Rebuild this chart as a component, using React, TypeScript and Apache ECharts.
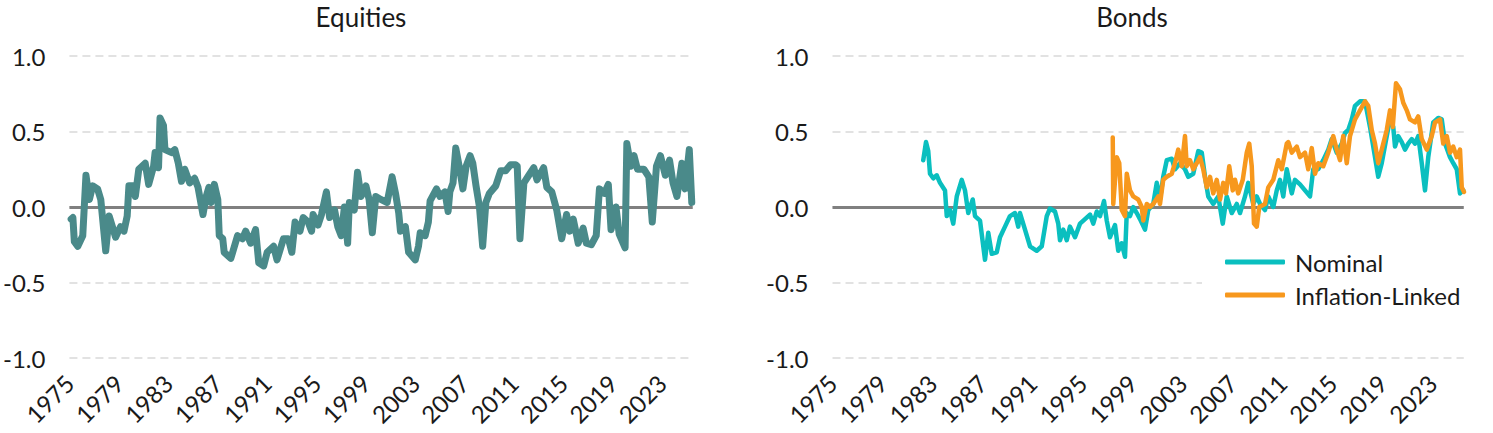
import React, { useEffect, useRef } from "react";
import * as echarts from "echarts";

const xMin = 1975;
const xMax = 2025.5;
const xStep = 4;
const yTicks = [-1, -0.5, 0, 0.5, 1];

const equities: [number, number][] = [
  [1975.14, -0.08], [1975.28, -0.07], [1975.4, -0.23], [1975.68, -0.26], [1976.08, -0.19],
  [1976.34, 0.21], [1976.62, 0.05], [1976.88, 0.14], [1977.28, 0.12], [1977.54, 0.05],
  [1977.94, -0.29], [1978.22, -0.06], [1978.48, -0.13], [1978.74, -0.2], [1979.14, -0.13],
  [1979.42, -0.16], [1979.68, -0.06], [1979.82, 0.14], [1980.22, 0.14], [1980.34, 0.07],
  [1980.62, 0.25], [1981.14, 0.29], [1981.42, 0.15], [1981.82, 0.27], [1981.94, 0.36],
  [1982.22, 0.26], [1982.34, 0.59], [1982.62, 0.54], [1982.74, 0.38], [1983.28, 0.36],
  [1983.54, 0.38], [1983.82, 0.29], [1984.08, 0.17], [1984.34, 0.25], [1984.74, 0.16],
  [1985.14, 0.19], [1985.42, 0.13], [1985.82, -0.05], [1986.08, 0.07], [1986.3, 0.13],
  [1986.48, 0.03], [1986.74, 0.15], [1987.02, 0.05], [1987.14, -0.19], [1987.42, -0.21],
  [1987.54, -0.3], [1988.08, -0.34], [1988.62, -0.19], [1989.02, -0.21], [1989.28, -0.16],
  [1989.68, -0.24], [1990.08, -0.15], [1990.34, -0.37], [1990.74, -0.39], [1991.02, -0.3],
  [1991.54, -0.26], [1991.82, -0.35], [1992.34, -0.21], [1992.74, -0.21], [1993.02, -0.3],
  [1993.28, -0.1], [1993.68, -0.16], [1993.94, -0.07], [1994.34, -0.1], [1994.62, -0.16],
  [1994.74, -0.05], [1995.14, -0.12], [1995.42, -0.05], [1995.82, 0.1], [1996.08, -0.07],
  [1996.48, -0.02], [1996.74, -0.13], [1997.02, -0.19], [1997.28, 0.0], [1997.54, -0.24],
  [1997.68, 0.03], [1998.08, -0.02], [1998.34, 0.23], [1998.62, 0.07], [1999.02, 0.14],
  [1999.28, 0.05], [1999.54, -0.17], [1999.82, 0.07], [2000.22, 0.05], [2000.74, 0.03],
  [2001.14, 0.2], [2001.42, 0.09], [2001.68, -0.04], [2001.82, -0.16], [2002.22, -0.13],
  [2002.48, -0.3], [2003.02, -0.35], [2003.28, -0.26], [2003.42, -0.17], [2003.82, -0.19],
  [2004.08, -0.1], [2004.22, 0.04], [2004.74, 0.12], [2005.02, 0.07], [2005.42, 0.1],
  [2005.68, -0.03], [2005.82, 0.1], [2006.08, 0.16], [2006.3, 0.39], [2006.62, 0.25],
  [2006.88, 0.12], [2007.14, 0.27], [2007.46, 0.34], [2007.68, 0.29], [2007.94, 0.14],
  [2008.22, 0.0], [2008.48, -0.26], [2008.74, 0.03], [2009.02, 0.09], [2009.54, 0.14],
  [2009.94, 0.24], [2010.34, 0.24], [2010.74, 0.28], [2011.14, 0.28], [2011.28, 0.27],
  [2011.5, -0.21], [2011.82, 0.16], [2012.22, 0.21], [2012.62, 0.26], [2012.88, 0.18],
  [2013.42, 0.26], [2013.68, 0.13], [2014.08, 0.1], [2014.48, -0.02], [2014.88, -0.21],
  [2015.28, -0.05], [2015.54, -0.16], [2015.82, -0.08], [2016.22, -0.24], [2016.62, -0.14],
  [2016.88, -0.24], [2017.28, -0.25], [2017.68, -0.19], [2017.94, 0.12], [2018.34, 0.09],
  [2018.66, 0.15], [2018.88, -0.15], [2019.28, 0.0], [2019.54, -0.18], [2020.02, -0.27],
  [2020.16, 0.42], [2020.48, 0.27], [2020.74, 0.34], [2021.02, 0.25], [2021.54, 0.25],
  [2021.94, 0.2], [2022.22, -0.1], [2022.56, 0.27], [2022.88, 0.34], [2023.28, 0.21],
  [2023.62, 0.31], [2023.9, 0.16], [2024.22, 0.07], [2024.62, 0.29], [2024.88, 0.12],
  [2025.22, 0.38], [2025.42, 0.03],
];

const nominal: [number, number][] = [
  [1982.26, 0.31], [1982.48, 0.43], [1982.66, 0.37], [1982.8, 0.22], [1983.06, 0.19],
  [1983.34, 0.21], [1983.6, 0.16], [1984.0, 0.11], [1984.14, -0.06], [1984.4, -0.02],
  [1984.66, -0.11], [1984.94, 0.07], [1985.34, 0.18], [1985.6, 0.11], [1985.86, -0.04],
  [1986.22, 0.05], [1986.4, -0.06], [1986.8, -0.09], [1987.2, -0.35], [1987.46, -0.17],
  [1987.74, -0.31], [1988.14, -0.3], [1988.4, -0.2], [1988.8, -0.13], [1989.2, -0.06],
  [1989.6, -0.04], [1989.86, -0.13], [1990.0, -0.04], [1990.4, -0.15], [1990.8, -0.26],
  [1991.34, -0.29], [1991.74, -0.26], [1992.14, -0.06], [1992.4, -0.01], [1992.8, -0.03],
  [1993.06, -0.11], [1993.2, -0.22], [1993.46, -0.15], [1993.74, -0.22], [1994.0, -0.13],
  [1994.4, -0.2], [1994.8, -0.11], [1995.2, -0.08], [1995.6, -0.05], [1995.86, -0.11],
  [1996.14, -0.03], [1996.4, -0.06], [1996.72, 0.04], [1996.94, -0.09], [1997.2, -0.2],
  [1997.6, -0.12], [1997.86, -0.29], [1998.14, -0.24], [1998.4, -0.33], [1998.54, -0.04],
  [1998.8, -0.06], [1999.06, 0.0], [1999.34, -0.04], [1999.6, -0.08], [2000.0, -0.15],
  [2000.26, -0.02], [2000.66, 0.02], [2000.94, 0.16], [2001.2, 0.05], [2001.46, 0.2],
  [2001.74, 0.31], [2002.14, 0.32], [2002.4, 0.25], [2002.8, 0.29], [2003.2, 0.25],
  [2003.46, 0.2], [2003.86, 0.22], [2004.26, 0.37], [2004.54, 0.36], [2004.8, 0.2],
  [2005.06, 0.07], [2005.46, 0.02], [2005.86, 0.07], [2006.22, -0.11], [2006.54, 0.07],
  [2006.94, -0.04], [2007.34, 0.02], [2007.6, -0.04], [2008.0, 0.07], [2008.26, 0.16],
  [2008.66, 0.02], [2008.94, 0.07], [2009.2, 0.02], [2009.6, -0.02], [2009.86, 0.07],
  [2010.26, 0.0], [2010.54, 0.11], [2010.8, 0.18], [2011.06, 0.07], [2011.34, 0.25],
  [2011.74, 0.09], [2012.0, 0.18], [2012.4, 0.15], [2012.8, 0.11], [2013.2, 0.07],
  [2013.46, 0.25], [2013.86, 0.25], [2014.26, 0.31], [2014.66, 0.38], [2014.94, 0.45],
  [2015.34, 0.36], [2015.74, 0.42], [2016.0, 0.49], [2016.26, 0.51], [2016.54, 0.58],
  [2016.8, 0.67], [2017.2, 0.7], [2017.6, 0.7], [2018.0, 0.53], [2018.4, 0.33],
  [2018.66, 0.2], [2018.94, 0.29], [2019.34, 0.47], [2019.6, 0.58], [2019.86, 0.53],
  [2020.0, 0.4], [2020.26, 0.47], [2020.54, 0.43], [2020.8, 0.38], [2021.06, 0.42],
  [2021.34, 0.45], [2021.6, 0.42], [2021.86, 0.47], [2022.14, 0.29], [2022.4, 0.11],
  [2022.66, 0.33], [2023.06, 0.56], [2023.46, 0.59], [2023.74, 0.58], [2024.0, 0.42],
  [2024.4, 0.33], [2024.66, 0.29], [2024.94, 0.25], [2025.2, 0.09], [2025.46, 0.11],
];

const inflationLinked: [number, number][] = [
  [1997.42, 0.46], [1997.46, 0.02], [1997.74, 0.33], [1997.94, 0.29], [1998.14, -0.02],
  [1998.4, -0.06], [1998.54, 0.22], [1998.8, 0.11], [1999.06, 0.07], [1999.46, 0.05],
  [1999.74, 0.0], [1999.86, -0.09], [2000.14, 0.02], [2000.4, 0.0], [2000.66, 0.02],
  [2001.06, 0.07], [2001.2, 0.02], [2001.46, 0.18], [2001.74, 0.2], [2002.14, 0.22],
  [2002.4, 0.29], [2002.66, 0.38], [2002.94, 0.27], [2003.2, 0.47], [2003.34, 0.27],
  [2003.6, 0.31], [2003.86, 0.25], [2004.14, 0.29], [2004.4, 0.33], [2004.66, 0.25],
  [2004.94, 0.13], [2005.2, 0.2], [2005.46, 0.09], [2005.74, 0.18], [2006.0, 0.05],
  [2006.26, 0.16], [2006.48, 0.09], [2006.74, 0.27], [2007.02, 0.11], [2007.2, 0.18],
  [2007.46, 0.09], [2007.82, 0.18], [2008.14, 0.36], [2008.34, 0.42], [2008.54, 0.27],
  [2008.72, -0.11], [2008.94, -0.13], [2009.14, 0.0], [2009.6, 0.02], [2009.86, 0.13],
  [2010.26, 0.18], [2010.66, 0.31], [2010.94, 0.25], [2011.34, 0.42], [2011.46, 0.43],
  [2011.74, 0.36], [2012.14, 0.4], [2012.4, 0.33], [2012.8, 0.36], [2013.06, 0.25],
  [2013.34, 0.39], [2013.6, 0.22], [2013.86, 0.29], [2014.26, 0.27], [2014.66, 0.36],
  [2015.06, 0.47], [2015.34, 0.38], [2015.6, 0.31], [2015.86, 0.47], [2016.14, 0.29],
  [2016.4, 0.47], [2016.8, 0.58], [2017.2, 0.64], [2017.6, 0.7], [2017.86, 0.67],
  [2018.14, 0.51], [2018.4, 0.42], [2018.66, 0.29], [2018.94, 0.38], [2019.34, 0.51],
  [2019.6, 0.64], [2019.82, 0.53], [2020.08, 0.82], [2020.4, 0.78], [2020.66, 0.69],
  [2020.94, 0.64], [2021.2, 0.58], [2021.6, 0.56], [2021.86, 0.6], [2022.14, 0.45],
  [2022.54, 0.38], [2022.94, 0.47], [2023.2, 0.56], [2023.6, 0.58], [2023.86, 0.42],
  [2024.14, 0.47], [2024.4, 0.36], [2024.66, 0.4], [2024.94, 0.33], [2025.2, 0.38],
  [2025.34, 0.13], [2025.52, 0.1],
];

const FONT = "Lato";
const TEXT = "#1a1a1a";

export default function App() {
  const ref = useRef<HTMLDivElement>(null);

  useEffect(() => {
    document.body.style.margin = "0";
    if (!ref.current) return;
    const chart = echarts.init(ref.current, undefined, { renderer: "svg" });

    const zeroLine = {
      silent: true,
      z: 1,
      symbol: ["none", "none"],
      label: { show: false },
      lineStyle: { color: "#808080", width: 3, type: "solid" },
      data: [{ yAxis: 0 }],
    };

    const xAxisFor = (i: number) => ({
      type: "value",
      gridIndex: i,
      min: xMin,
      max: xMax,
      interval: xStep,
      axisLine: { show: false },
      axisTick: { show: false },
      splitLine: { show: false },
      axisLabel: {
        rotate: 45,
        margin: 21,
        fontSize: 24,
        fontFamily: FONT,
        color: TEXT,
        showMaxLabel: false,
        formatter: (v: number) => ((v - xMin) % xStep === 0 ? String(v) : ""),
      },
    });

    const yAxisFor = (i: number) => ({
      type: "value",
      gridIndex: i,
      min: yTicks[0],
      max: yTicks[yTicks.length - 1],
      interval: 0.5,
      axisLine: { show: false },
      axisTick: { show: false },
      splitLine: { show: true, lineStyle: { color: "#d9d9d9", width: 1.5, type: [8, 5] } },
      axisLabel: {
        margin: 24,
        fontSize: 24,
        fontFamily: FONT,
        color: TEXT,
        formatter: (v: number) => v.toFixed(1),
      },
    });

    chart.setOption({
      animation: false,
      textStyle: { fontFamily: FONT },
      title: [
        {
          text: "Equities",
          left: 361,
          top: 4,
          textAlign: "center",
          padding: 0,
          textStyle: { fontSize: 26, fontWeight: "normal", color: TEXT, fontFamily: FONT },
        },
        {
          text: "Bonds",
          left: 1132,
          top: 4,
          textAlign: "center",
          padding: 0,
          textStyle: { fontSize: 26, fontWeight: "normal", color: TEXT, fontFamily: FONT },
        },
      ],
      grid: [
        { left: 61.5, top: 56, width: 631.25, height: 302 },
        { left: 832.5, top: 56, width: 631.25, height: 302 },
      ],
      xAxis: [xAxisFor(0), xAxisFor(1)],
      yAxis: [yAxisFor(0), yAxisFor(1)],
      legend: {
        data: ["Nominal", "Inflation-Linked"],
        orient: "vertical",
        left: 1202,
        top: 240,
        padding: [10, 5, 10, 23],
        backgroundColor: "#ffffff",
        itemWidth: 60,
        itemHeight: 5,
        itemGap: 9,
        icon: "roundRect",
        selectedMode: false,
        textStyle: { fontSize: 24, fontFamily: FONT, color: TEXT, lineHeight: 24, padding: [0, 0, 0, 5] },
      },
      series: [
        {
          type: "line",
          name: "Equities",
          xAxisIndex: 0,
          yAxisIndex: 0,
          data: equities,
          showSymbol: false,
          z: 3,
          lineStyle: { width: 7, color: "#4a8a8a", join: "round", cap: "round" },
          itemStyle: { color: "#4a8a8a" },
          markLine: zeroLine,
        },
        {
          type: "line",
          name: "Nominal",
          xAxisIndex: 1,
          yAxisIndex: 1,
          data: nominal,
          showSymbol: false,
          z: 3,
          lineStyle: { width: 4.5, color: "#0abfbf", join: "round", cap: "round" },
          itemStyle: { color: "#0abfbf" },
          markLine: zeroLine,
        },
        {
          type: "line",
          name: "Inflation-Linked",
          xAxisIndex: 1,
          yAxisIndex: 1,
          data: inflationLinked,
          showSymbol: false,
          z: 4,
          lineStyle: { width: 4.5, color: "#f7981d", join: "round", cap: "round" },
          itemStyle: { color: "#f7981d" },
        },
      ],
    });

    return () => chart.dispose();
  }, []);

  return <div ref={ref} style={{ width: 1493, height: 433 }} />;
}
